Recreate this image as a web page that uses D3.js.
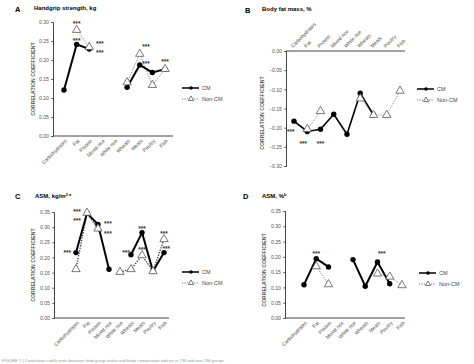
<!DOCTYPE html>
<html><head><meta charset="utf-8">
<script src="https://cdn.jsdelivr.net/npm/d3@7"></script>
<style>
html,body{margin:0;padding:0;background:#fff;}
svg{display:block;font-family:"Liberation Sans",Arial,sans-serif;}
</style></head>
<body>
<svg id="chart" width="474" height="364"></svg>
<script>
// ---------- DATA ----------
const categories = ["Carbohydrates","Fat","Protein","Mixed rice","White rice","Wheats","Meats","Poultry","Fish"];
const seriesNames = ["CM","Non-CM"];

// Panel A: Handgrip strength, kg
const handgripCM    = [0.121, 0.241, 0.229, null, null, 0.128, 0.187, 0.167, 0.176];
const handgripNonCM = [null, 0.279, 0.234, null, null, 0.141, 0.216, 0.134, 0.176];
const handgripTicks = [0, 0.05, 0.10, 0.15, 0.20, 0.25, 0.30];

// Panel B: Body fat mass, %
const fatCM    = [-0.183, -0.210, -0.204, -0.165, -0.217, -0.110, -0.167, null, null];
const fatNonCM = [null, -0.204, -0.157, null, null, -0.124, -0.167, -0.167, -0.104];
const fatTicks = [0, -0.05, -0.10, -0.15, -0.20, -0.25, -0.30];

// Panel C: ASM, kg/m2
const asmKgCM    = [0.216, 0.346, 0.309, 0.161, null, 0.209, 0.282, 0.154, 0.216];
const asmKgNonCM = [0.161, 0.347, 0.295, null, 0.152, 0.161, 0.207, 0.154, 0.260];
const asmTicks = [0, 0.05, 0.10, 0.15, 0.20, 0.25, 0.30, 0.35];

// Panel D: ASM, %
const asmPctCM    = [0.109, 0.194, 0.167, null, 0.191, 0.104, 0.183, 0.112, null];
const asmPctNonCM = [null, 0.169, 0.110, null, null, null, 0.145, 0.135, 0.107];

// Significance marks: [category, value level, horizontal shift in category steps]
const handgripStars = [["Fat",0.300,0],["Fat",0.255,0],["Protein",0.245,0.83],["Protein",0.223,0.83],["Meats",0.238,0.5],["Meats",0.193,0.5],["Fish",0.198,0]];
const fatStars = [["Carbohydrates",-0.207,-0.25],["Fat",-0.238,-0.3],["Protein",-0.238,0]];
const asmKgStars = [["Carbohydrates",0.221,-0.8],["Fat",0.356,-0.9],["Fat",0.327,-0.9],["Protein",0.314,0.9],["Protein",0.284,0.9],["Wheats",0.221,-0.45],["Meats",0.300,0],["Meats",0.231,0],["Fish",0.281,0],["Fish",0.232,0.2]];
const asmPctStars = [["Fat",0.214,0],["Meats",0.214,0.35]];

// ---------- LAYOUT ----------
const panels = [
  {letter:"A", title:"Handgrip strength, kg", sup:"", cm:handgripCM, non:handgripNonCM, ticks:handgripTicks, stars:handgripStars,
   dom:[0,0.30], yr:[136,22], axX:53, axEnd:173, xr:[64,165], top:false,
   letterXY:[15,12], titleXY:[34,10], ylab:[35,79], legend:[182,88], cmW:2, nonStyle:{c:"#777",w:0.9}},
  {letter:"B", title:"Body fat mass,  %", sup:"", cm:fatCM, non:fatNonCM, ticks:fatTicks, stars:fatStars,
   dom:[-0.30,0], yr:[166,51], axX:286, axEnd:405, xr:[294,400], top:true,
   letterXY:[245,13], titleXY:[262,11], ylab:[264,113], legend:[417,89], cmW:1.6, nonStyle:{c:"#888",w:0.9}},
  {letter:"C", title:"ASM, kg/m", sup:"2 a", cm:asmKgCM, non:asmKgNonCM, ticks:asmTicks, stars:asmKgStars,
   dom:[0,0.35], yr:[318,212], axX:54, axEnd:169, xr:[76,164], top:false,
   letterXY:[15,199], titleXY:[35,198], ylab:[35,265], legend:[182,272], cmW:2, nonStyle:{c:"#333",w:1.3}},
  {letter:"D", title:"ASM, %", sup:"b", cm:asmPctCM, non:asmPctNonCM, ticks:asmTicks, stars:asmPctStars,
   dom:[0,0.35], yr:[318,211], axX:285, axEnd:405, xr:[304,402], top:false,
   letterXY:[243,199], titleXY:[262,198], ylab:[266,270], legend:[419,273], cmW:2, nonStyle:{c:"#777",w:0.9}}
];

const svg = d3.select("#chart");
const fmt = d3.format(".2f");
const tri = d3.symbol().type(d3.symbolTriangle).size(30);

panels.forEach(p => {
  const g = svg.append("g");
  const x = d3.scalePoint().domain(categories).range(p.xr);
  const y = d3.scaleLinear().domain(p.dom).range(p.yr);
  const step = x.step();
  const axisY = y(0);

  // title
  g.append("text").attr("x",p.letterXY[0]).attr("y",p.letterXY[1]).attr("font-size",7.5).attr("font-weight","bold").text(p.letter);
  const t = g.append("text").attr("x",p.titleXY[0]).attr("y",p.titleXY[1]).attr("font-size",6).attr("font-weight","bold").text(p.title);
  if (p.sup) t.append("tspan").attr("dy",-2).attr("font-size",4).text(p.sup);

  // y axis
  const yAxis = d3.axisLeft(y).tickValues(p.ticks).tickFormat(fmt).tickSize(1.5).tickPadding(2.5);
  const ya = g.append("g").attr("transform",`translate(${p.axX},0)`).call(yAxis);
  ya.select(".domain").attr("stroke","#444").attr("stroke-width",1);
  ya.selectAll(".tick line").attr("stroke","#444");
  ya.selectAll(".tick text").attr("font-size",5.2).attr("fill","#555").attr("font-family","Liberation Sans, Arial, sans-serif");

  // x axis line
  g.append("line").attr("x1",p.axX).attr("x2",p.axEnd).attr("y1",axisY).attr("y2",axisY).attr("stroke","#444").attr("stroke-width",1);

  // category labels
  categories.forEach(c => {
    if (p.top) {
      g.append("text").attr("transform",`translate(${x(c)-1},${axisY-3}) rotate(-45)`)
        .attr("font-size",5).attr("fill","#444").attr("text-anchor","start").text(c);
    } else {
      g.append("text").attr("transform",`translate(${x(c)+2},${axisY+4}) rotate(-45)`)
        .attr("font-size",5).attr("fill","#444").attr("text-anchor","end").attr("dy","0.35em").text(c);
    }
  });

  // y label
  g.append("text").attr("transform",`translate(${p.ylab[0]},${p.ylab[1]}) rotate(-90)`)
    .attr("text-anchor","middle").attr("font-size",5).attr("fill","#555").attr("font-weight","bold")
    .attr("letter-spacing",0.1).text("CORRELATION COEFFICIENT");

  const line = d3.line().defined(d => d.v !== null).x(d => x(d.c)).y(d => y(d.v));
  const nonData = categories.map((c,i) => ({c, v:p.non[i]}));
  const cmData = categories.map((c,i) => ({c, v:p.cm[i]}));

  // Non-CM line
  g.append("path").datum(nonData).attr("d",line).attr("fill","none")
    .attr("stroke",p.nonStyle.c).attr("stroke-width",p.nonStyle.w).attr("stroke-dasharray","1.3,1.3");
  // CM line
  g.append("path").datum(cmData).attr("d",line).attr("fill","none")
    .attr("stroke","#000").attr("stroke-width",p.cmW).attr("stroke-linejoin","round");
  // CM points
  g.selectAll(null).data(cmData.filter(d => d.v !== null)).enter().append("circle")
    .attr("cx",d => x(d.c)).attr("cy",d => y(d.v)).attr("r",2.7).attr("fill","#000");
  // Non-CM triangles
  g.selectAll(null).data(nonData.filter(d => d.v !== null)).enter().append("path")
    .attr("d",tri).attr("transform",d => `translate(${x(d.c)},${y(d.v)})`)
    .attr("fill","#fff").attr("stroke","#555").attr("stroke-width",0.8);

  // stars
  p.stars.forEach(s => {
    g.append("text").attr("x",x(s[0]) + s[2]*step).attr("y",y(s[1])).attr("dy","0.55em")
      .attr("text-anchor","middle").attr("font-size",6.5).attr("fill","#333").attr("font-weight","bold").text("***");
  });

  // legend
  const [lx,ly] = p.legend;
  g.append("line").attr("x1",lx).attr("x2",lx+17).attr("y1",ly).attr("y2",ly).attr("stroke","#000").attr("stroke-width",1.5);
  g.append("circle").attr("cx",lx+9).attr("cy",ly).attr("r",1.8).attr("fill","#000");
  g.append("text").attr("x",lx+20).attr("y",ly).attr("dy","0.35em").attr("font-size",5.5).attr("fill","#444").text(seriesNames[0]);
  const ly2 = ly+11;
  g.append("line").attr("x1",lx).attr("x2",lx+17).attr("y1",ly2).attr("y2",ly2).attr("stroke","#666").attr("stroke-width",0.9).attr("stroke-dasharray","1.2,1.2");
  g.append("path").attr("d",d3.symbol().type(d3.symbolTriangle).size(12)).attr("transform",`translate(${lx+9},${ly2})`)
    .attr("fill","#fff").attr("stroke","#444").attr("stroke-width",0.7);
  g.append("text").attr("x",lx+20).attr("y",ly2).attr("dy","0.35em").attr("font-size",5.5).attr("fill","#444").text(seriesNames[1]);
});

// caption line at the bottom edge
svg.append("text").attr("x",2).attr("y",362).attr("font-size",4.2).attr("fill","#999")
  .text("FIGURE 1 | Correlation coefficients between food group intake and body composition indices in CM and non-CM groups.");
</script>
</body></html>
